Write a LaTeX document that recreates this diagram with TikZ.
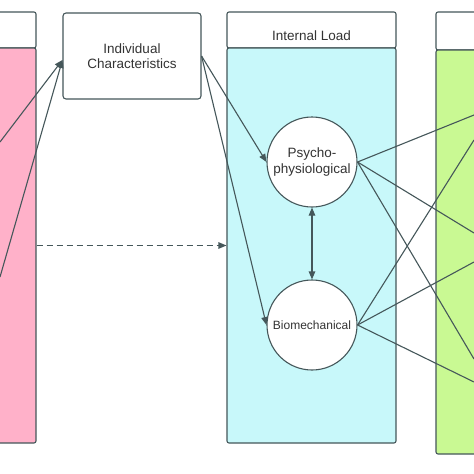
\documentclass[tikz,border=0pt]{standalone}
\usepackage{fontspec}
\setmainfont{Liberation Sans}
\usetikzlibrary{arrows.meta}
\definecolor{linegray}{HTML}{45575A}
\definecolor{textgray}{HTML}{333333}
\definecolor{pinkfill}{HTML}{FFB1C9}
\definecolor{cyanfill}{HTML}{C8F8FA}
\definecolor{greenfill}{HTML}{C9F993}
\tikzstyle{panel} = [draw=linegray, line width=1.1pt, rounded corners=2pt, inner sep=0pt, text=textgray]
\tikzstyle{header} = [panel, fill=white]
\tikzstyle{factor} = [draw=linegray, line width=1.1pt, circle, fill=white, minimum size=90pt, inner sep=0pt, align=center, text=textgray]
\tikzstyle{link} = [draw=linegray, line width=1.1pt, >={Triangle[length=8pt,width=6.5pt]}]

\begin{document}
\begin{tikzpicture}[
		x=1pt, y=-1pt,
		font=\fontsize{13.5}{15.5}\selectfont
	]
	\clip (0,0) rectangle (474,474);
	\fill[white] (0,0) rectangle (474,474);

	% left panel, cut off at the edge
	\node[header, minimum width=106pt, minimum height=36pt] (lefthead) at (-17,30) {};
	\node[panel, fill=pinkfill, minimum width=106pt, minimum height=395pt] (leftbody) at (-17,245.5) {};

	% internal load
	\node[header, minimum width=169pt, minimum height=36pt, text height=21pt, text depth=0pt] (loadhead) at (311.5,30) {Internal Load};
	\node[panel, fill=cyanfill, minimum width=169pt, minimum height=395pt] (loadbody) at (311.5,245.5) {};

	% right panel, cut off at the edge
	\node[header, minimum width=104pt, minimum height=38pt] (righthead) at (488,31) {};
	\node[panel, fill=greenfill, minimum width=104pt, minimum height=404pt] (rightbody) at (488,252) {};

	\node[panel, fill=white, rounded corners=3pt, minimum width=138pt, minimum height=86pt, align=center] (indiv) at (132,56) {Individual\\Characteristics};

	\node[factor] (psycho) at (312,162) {Psycho-\\physiological};
	\node[factor, font=\fontsize{12}{14}\selectfont] (biomech) at (312,325) {Biomechanical};

	% free ends outside the picture
	\coordinate (src1) at (0,142);
	\coordinate (src2) at (0,277);
	\coordinate (out1) at (474,115);
	\coordinate (out2) at (474,233);
	\coordinate (out3) at (474,359);
	\coordinate (out4) at (474,140);
	\coordinate (out5) at (474,262);
	\coordinate (out6) at (474,382);

	\draw[link, ->] (src1) -- ([yshift=-4pt]indiv.west);
	\draw[link, ->] (src2) -- ([yshift=-4pt]indiv.west);
	\draw[link, ->] (indiv.east) -- (psycho.west);
	\draw[link, ->] (indiv.east) -- (biomech.west);
	\draw[link, <->] (psycho) -- (biomech);
	\draw[link, ->, dash pattern=on 6pt off 4pt] (leftbody.east) -- (loadbody.west);

	\draw[link] (psycho.east) -- (out1);
	\draw[link] (psycho.east) -- (out2);
	\draw[link] (psycho.east) -- (out3);
	\draw[link] (biomech.east) -- (out4);
	\draw[link] (biomech.east) -- (out5);
	\draw[link] (biomech.east) -- (out6);
\end{tikzpicture}
\end{document}
